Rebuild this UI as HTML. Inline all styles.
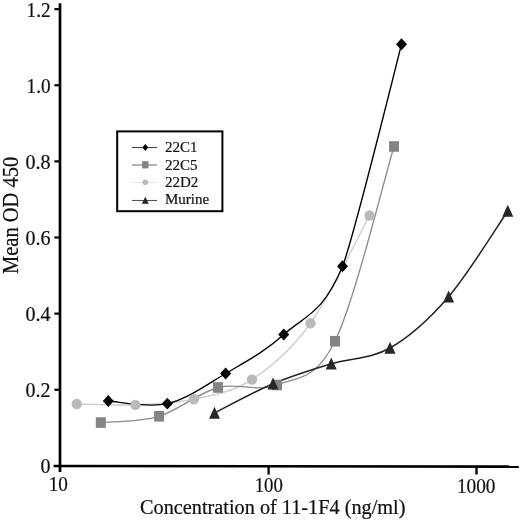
<!DOCTYPE html>
<html><head><meta charset="utf-8"><title>Chart</title>
<style>html,body{margin:0;padding:0;background:#fff;}body{width:520px;height:521px;position:relative;overflow:hidden;}</style></head>
<body>
<svg width="520" height="521" viewBox="0 0 520 521" style="position:absolute;left:0;top:0;filter:blur(0.3px)">
<rect width="520" height="521" fill="#fff"/>
<g stroke="#000" fill="none">
<line x1="60" y1="3.2" x2="60" y2="472" stroke-width="2.7"/>
<line x1="53.6" y1="466.0" x2="518.8" y2="466.6" stroke-width="2.7"/>
<line x1="54.4" y1="389.77" x2="59.8" y2="389.77" stroke-width="2.2"/>
<line x1="54.4" y1="313.64" x2="59.8" y2="313.64" stroke-width="2.2"/>
<line x1="54.4" y1="237.51" x2="59.8" y2="237.51" stroke-width="2.2"/>
<line x1="54.4" y1="161.38" x2="59.8" y2="161.38" stroke-width="2.2"/>
<line x1="54.4" y1="85.25" x2="59.8" y2="85.25" stroke-width="2.2"/>
<line x1="54.4" y1="9.12" x2="59.8" y2="9.12" stroke-width="2.2"/>
<line x1="268.60" y1="466.2" x2="268.60" y2="474.5" stroke-width="2.3"/>
<line x1="476.50" y1="466.2" x2="476.50" y2="474.5" stroke-width="2.3"/>
</g>
<g font-family="'Liberation Serif', serif" fill="#111" stroke="#111" stroke-width="0.22">
<text transform="translate(50.60,473.30) scale(1.000,1.050)" font-size="20.00" text-anchor="end">0</text>
<text transform="translate(50.60,397.17) scale(1.000,1.050)" font-size="20.00" text-anchor="end">0.2</text>
<text transform="translate(50.60,321.04) scale(1.000,1.050)" font-size="20.00" text-anchor="end">0.4</text>
<text transform="translate(50.60,244.91) scale(1.000,1.050)" font-size="20.00" text-anchor="end">0.6</text>
<text transform="translate(50.60,168.78) scale(1.000,1.050)" font-size="20.00" text-anchor="end">0.8</text>
<text transform="translate(50.60,92.65) scale(0.960,1.050)" font-size="20.00" text-anchor="end">1.0</text>
<text transform="translate(50.60,16.52) scale(0.960,1.050)" font-size="20.00" text-anchor="end">1.2</text>
<text transform="translate(58.30,491.40) scale(0.960,1.040)" font-size="20.00" text-anchor="middle">10</text>
<text transform="translate(268.80,492.30) scale(0.940,1.040)" font-size="20.00" text-anchor="middle">100</text>
<text transform="translate(476.20,492.70) scale(0.965,1.040)" font-size="20.00" text-anchor="middle">1000</text>
<text transform="translate(272.75,513.80) scale(1.000,1.080)" font-size="20.27" text-anchor="middle">Concentration of 11-1F4 (ng/ml)</text>
<text transform="translate(17.90,215.40) rotate(-90) scale(1.000,1.080)" font-size="20.50" text-anchor="middle">Mean OD 450</text>
</g>
<g fill="none" stroke-linecap="round" stroke-linejoin="round">
<path d="M76.75,404.00 C86.53,404.15 115.89,405.68 135.40,404.90 C154.91,404.12 174.37,403.53 193.80,399.30 C213.23,395.07 232.55,392.17 252.00,379.50 C271.45,366.83 290.92,350.63 310.50,323.30 C330.08,295.97 359.67,233.47 369.50,215.50" stroke="#d0d0d0" stroke-width="1.5"/>
<path d="M100.80,422.60 C110.52,421.55 139.57,422.15 159.10,416.30 C178.63,410.45 198.35,392.72 218.00,387.50 C237.65,382.28 257.50,392.71 277.00,385.00 C296.50,377.29 315.50,381.00 335.00,341.25 C354.50,301.50 384.17,178.96 394.00,146.50" stroke="#8a8a8a" stroke-width="1.3"/>
<path d="M214.50,413.00 C224.25,408.12 253.54,391.96 273.00,383.75 C292.46,375.54 311.75,369.71 331.25,363.75 C350.75,357.79 370.44,359.18 390.00,348.00 C409.56,336.82 428.97,319.53 448.60,296.70 C468.23,273.87 497.93,225.28 507.80,211.00" stroke="#222" stroke-width="1.5"/>
<path d="M108.30,401.00 C118.13,401.45 147.75,408.28 167.30,403.70 C186.85,399.12 206.19,385.03 225.60,373.50 C245.01,361.97 264.27,352.38 283.75,334.50 C303.23,316.62 322.88,314.62 342.50,266.25 C353.29,239.64 398.55,55.35 401.50,44.25" stroke="#000" stroke-width="1.35"/>
</g>
<circle cx="76.75" cy="404.00" r="5.20" fill="#bababa"/>
<circle cx="135.40" cy="404.90" r="5.20" fill="#bababa"/>
<circle cx="193.80" cy="399.30" r="5.20" fill="#bababa"/>
<circle cx="252.00" cy="379.50" r="5.20" fill="#bababa"/>
<circle cx="310.50" cy="323.30" r="5.20" fill="#bababa"/>
<circle cx="369.50" cy="215.50" r="5.20" fill="#bababa"/>
<rect x="95.80" y="417.30" width="10.00" height="10.60" fill="#848484"/>
<rect x="154.10" y="411.00" width="10.00" height="10.60" fill="#848484"/>
<rect x="213.00" y="382.20" width="10.00" height="10.60" fill="#848484"/>
<rect x="272.00" y="379.70" width="10.00" height="10.60" fill="#848484"/>
<rect x="330.00" y="335.95" width="10.00" height="10.60" fill="#848484"/>
<rect x="389.00" y="141.20" width="10.00" height="10.60" fill="#848484"/>
<path d="M214.50,406.70 L220.00,418.80 L209.00,418.80 Z" fill="#262626"/>
<path d="M273.00,377.45 L278.50,389.55 L267.50,389.55 Z" fill="#262626"/>
<path d="M331.25,357.45 L336.75,369.55 L325.75,369.55 Z" fill="#262626"/>
<path d="M390.00,341.70 L395.50,353.80 L384.50,353.80 Z" fill="#262626"/>
<path d="M448.60,290.40 L454.10,302.50 L443.10,302.50 Z" fill="#262626"/>
<path d="M507.80,204.70 L513.30,216.80 L502.30,216.80 Z" fill="#262626"/>
<path d="M108.30,395.12 L113.80,401.00 L108.30,406.88 L102.80,401.00 Z" fill="#000"/>
<path d="M167.30,397.81 L172.80,403.70 L167.30,409.58 L161.80,403.70 Z" fill="#000"/>
<path d="M225.60,367.62 L231.10,373.50 L225.60,379.38 L220.10,373.50 Z" fill="#000"/>
<path d="M283.75,328.62 L289.25,334.50 L283.75,340.38 L278.25,334.50 Z" fill="#000"/>
<path d="M342.50,260.37 L348.00,266.25 L342.50,272.13 L337.00,266.25 Z" fill="#000"/>
<path d="M401.50,38.37 L407.00,44.25 L401.50,50.13 L396.00,44.25 Z" fill="#000"/>
<rect x="117.2" y="131.4" width="105.2" height="79.8" fill="#fff" stroke="#000" stroke-width="2"/>
<g font-family="'Liberation Serif', serif" font-size="15" fill="#111" stroke="#111" stroke-width="0.2">
<text x="165" y="152.00">22C1</text>
<text x="165" y="169.70">22C5</text>
<text x="165" y="187.00">22D2</text>
<text x="165" y="204.30">Murine</text>
</g>
<line x1="132.0" y1="147.5" x2="157.0" y2="147.5" stroke="#444" stroke-width="1.1"/>
<path d="M145.30,144.00 L148.20,147.50 L145.30,151.00 L142.40,147.50 Z" fill="#000"/>
<line x1="132.0" y1="165" x2="157.0" y2="165" stroke="#888" stroke-width="1.3"/>
<rect x="142.10" y="161.20" width="6.40" height="7.20" fill="#848484"/>
<line x1="132.0" y1="182.5" x2="157.0" y2="182.5" stroke="#e2e2e2" stroke-width="1"/>
<circle cx="145.30" cy="182.20" r="2.80" fill="#bababa"/>
<line x1="132.0" y1="200.5" x2="157.0" y2="200.5" stroke="#555" stroke-width="1.1"/>
<path d="M145.30,196.80 L148.80,203.80 L141.80,203.80 Z" fill="#262626"/>
</svg>
</body></html>
